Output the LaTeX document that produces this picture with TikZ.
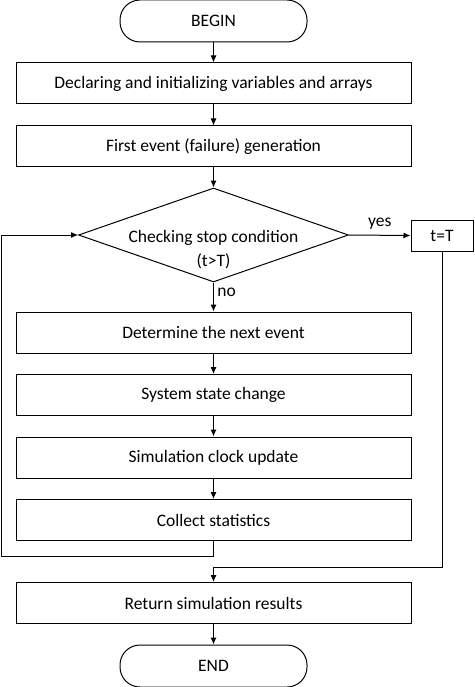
\documentclass[tikz,border=0pt]{standalone}
\usepackage{fontspec}
\setmainfont{Carlito}
\usetikzlibrary{shapes.geometric, arrows.meta}
\begin{document}
\begin{tikzpicture}[x=1pt, y=-1pt,
	every node/.style={font=\fontsize{17.5}{24}\selectfont},
	process/.style={draw, line width=1pt, minimum width=395pt, minimum height=41pt, inner sep=0pt},
	terminal/.style={draw, line width=1pt, rounded corners=20pt, minimum width=187pt, minimum height=42pt, inner sep=0pt},
	decision/.style={draw, line width=1pt, diamond, aspect=2.87, minimum width=270pt, minimum height=94pt, inner sep=0pt},
	flow/.style={line width=1pt, -{Latex[length=7pt, width=6pt]}},
	link/.style={line width=1pt}]
	\useasboundingbox (0, 0) rectangle (474, 687);

	\node[terminal] (begin) at (213.5, 21) {BEGIN};
	\node[process] (init) at (213.5, 83.5) {Declaring and initializing variables and arrays};
	\node[process] (first) at (213.5, 146.5) {First event (failure) generation};
	\node[decision] (check) at (213.5, 235) {};
	\node[align=center] (checktext) at (213.5, 250) {Checking stop condition\\(t>T)};
	\node[draw, line width=1pt, minimum width=62pt, minimum height=31pt, inner sep=0pt] (stop) at (442, 235.5) {t=T};

	\node[process] (next) at (213.5, 332.5) {Determine the next event};
	\node[process] (state) at (213.5, 395) {System state change};
	\node[process] (clock) at (213.5, 457.5) {Simulation clock update};
	\node[process] (stats) at (213.5, 520) {Collect statistics};
	\node[process] (result) at (213.5, 603) {Return simulation results};
	\node[terminal] (end) at (213.5, 666) {END};

	\coordinate (loopA) at (213.5, 556);
	\coordinate (loopB) at (1, 556);
	\coordinate (loopC) at (1, 235);
	\coordinate (exitA) at (442, 567);
	\coordinate (exitB) at (213.5, 567);

	% Draw the main flow
	\draw[flow] (begin) -- (init);
	\draw[flow] (init) -- (first);
	\draw[flow] (first) -- (check);
	\draw[flow] (check) -- node[right, pos=0.35] {no} (next);
	\draw[flow] (next) -- (state);
	\draw[flow] (state) -- (clock);
	\draw[flow] (clock) -- (stats);
	\draw[flow] (result) -- (end);

	% Draw the loop and the exit
	\draw[link] (stats.south) -- (loopA) -- (loopB) -- (loopC);
	\draw[flow] (loopC) -- (check.west);
	\draw[flow] (check.east) -- node[above, pos=0.5, yshift=2pt] {yes} (stop.west);
	\draw[link] (stop.south) -- (exitA) -- (exitB);
	\draw[flow] (exitB) -- (result.north);
\end{tikzpicture}
\end{document}
